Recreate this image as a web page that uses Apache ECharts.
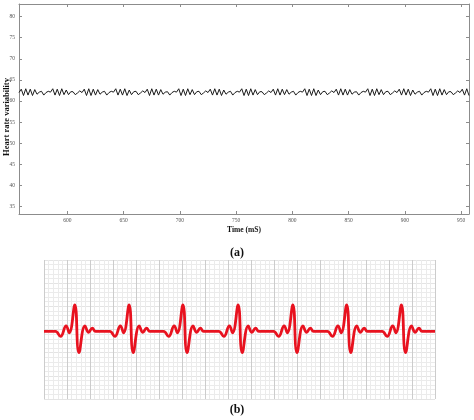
<!DOCTYPE html>
<html>
<head>
<meta charset="utf-8">
<script src="https://cdn.jsdelivr.net/npm/echarts@6/dist/echarts.min.js"></script>
<style>
  html, body { margin: 0; padding: 0; background: #fff; }
  #chart { width: 474px; height: 420px; }
</style>
</head>
<body>
<div id="chart"></div>
<script>
// (a) heart rate variability over time
var hrvTime = [
  557, 559, 561, 563, 565, 567, 569, 571, 573, 575,
  577, 579, 581, 583, 585, 587, 589, 591, 593, 595,
  597, 599, 601, 603, 605, 607, 609, 611, 613, 615,
  617, 619, 621, 623, 625, 627, 629, 631, 633, 635,
  637, 639, 641, 643, 645, 647, 649, 651, 653, 655,
  657, 659, 661, 663, 665, 667, 669, 671, 673, 675,
  677, 679, 681, 683, 685, 687, 689, 691, 693, 695,
  697, 699, 701, 703, 705, 707, 709, 711, 713, 715,
  717, 719, 721, 723, 725, 727, 729, 731, 733, 735,
  737, 739, 741, 743, 745, 747, 749, 751, 753, 755,
  757, 759, 761, 763, 765, 767, 769, 771, 773, 775,
  777, 779, 781, 783, 785, 787, 789, 791, 793, 795,
  797, 799, 801, 803, 805, 807, 809, 811, 813, 815,
  817, 819, 821, 823, 825, 827, 829, 831, 833, 835,
  837, 839, 841, 843, 845, 847, 849, 851, 853, 855,
  857, 859, 861, 863, 865, 867, 869, 871, 873, 875,
  877, 879, 881, 883, 885, 887, 889, 891, 893, 895,
  897, 899, 901, 903, 905, 907, 909, 911, 913, 915,
  917, 919, 921, 923, 925, 927, 929, 931, 933, 935,
  937, 939, 941, 943, 945, 947, 949, 951, 953, 955,
  957
];
var hrvValue = [
  62.0, 62.8, 61.3, 62.9, 61.4, 62.8, 61.3, 62.7, 61.6, 62.1, 62.3, 61.4, 62.0, 62.3,
  62.1, 62.9, 61.4, 62.8, 61.3, 62.9, 61.5, 62.6, 61.5, 62.2, 62.2, 61.5, 61.9, 62.4,
  62.0, 62.8, 61.3, 62.9, 61.3, 62.8, 61.4, 62.7, 61.6, 62.1, 62.3, 61.4, 62.0, 62.3,
  62.1, 62.9, 61.4, 62.8, 61.4, 62.9, 61.3, 62.6, 61.5, 62.2, 62.3, 61.5, 61.9, 62.4,
  62.0, 62.8, 61.3, 62.9, 61.4, 62.8, 61.4, 62.7, 61.6, 62.1, 62.2, 61.4, 62.0, 62.3,
  62.1, 62.9, 61.3, 62.8, 61.3, 62.9, 61.5, 62.7, 61.5, 62.2, 62.3, 61.5, 61.9, 62.4,
  62.0, 62.8, 61.4, 62.9, 61.4, 62.8, 61.3, 62.6, 61.6, 62.1, 62.3, 61.4, 62.0, 62.3,
  62.1, 62.9, 61.3, 62.8, 61.3, 62.9, 61.4, 62.7, 61.5, 62.2, 62.2, 61.5, 61.9, 62.4,
  62.0, 62.8, 61.4, 62.9, 61.4, 62.8, 61.5, 62.7, 61.6, 62.1, 62.3, 61.4, 62.0, 62.3,
  62.1, 62.9, 61.3, 62.8, 61.3, 62.9, 61.3, 62.6, 61.5, 62.2, 62.3, 61.5, 61.9, 62.4,
  62.0, 62.8, 61.4, 62.9, 61.4, 62.8, 61.4, 62.7, 61.6, 62.1, 62.2, 61.4, 62.0, 62.3,
  62.1, 62.9, 61.3, 62.8, 61.3, 62.9, 61.5, 62.7, 61.5, 62.2, 62.3, 61.5, 61.9, 62.4,
  62.0, 62.8, 61.4, 62.9, 61.4, 62.8, 61.3, 62.6, 61.6, 62.1, 62.3, 61.4, 62.0, 62.3,
  62.1, 62.9, 61.3, 62.8, 61.3, 62.9, 61.4, 62.7, 61.5, 62.2, 62.2, 61.5, 61.9, 62.4,
  62.0, 62.8, 61.4, 62.9, 61.3
];
var hrvXTicks = [600, 650, 700, 750, 800, 850, 900, 950];
var hrvYTicks = [35, 40, 45, 50, 55, 60, 65, 70, 75, 80];

// (b) ECG trace, in grid millimetres
var ecgX = [
  0, 1.2,
  2.5, 3.6, 4.8, 5.5, 6.7, 7.6, 8.9, 9.7, 10.5, 11.2, 12.8,
  14.3, 15.4, 16.6, 17.3, 18.5, 19.4, 20.7, 21.5, 22.3, 23.0, 24.6,
  26.0, 27.1, 28.3, 29.0, 30.2, 31.1, 32.4, 33.2, 34.0, 34.7, 36.4,
  38.0, 39.1, 40.3, 41.0, 42.2, 43.1, 44.4, 45.2, 46.0, 46.7, 48.3,
  49.9, 51.0, 52.2, 52.9, 54.1, 55.0, 56.3, 57.1, 57.9, 58.6, 60.1,
  61.6, 62.7, 63.9, 64.6, 65.8, 66.7, 68.0, 68.8, 69.6, 70.3, 71.9,
  73.5, 74.6, 75.8, 76.5, 77.7, 78.6, 79.9, 80.7, 81.5, 82.2, 83.6, 85
];
var ecgY = [
  14.6, 14.6,
  14.6, 13.5, 15.8, 14.3, 20.3, 10.0, 15.8, 14.4, 15.3, 14.6, 14.6,
  14.6, 13.5, 15.8, 14.3, 20.3, 10.0, 15.8, 14.4, 15.3, 14.6, 14.6,
  14.6, 13.5, 15.8, 14.3, 20.3, 10.0, 15.8, 14.4, 15.3, 14.6, 14.6,
  14.6, 13.5, 15.8, 14.3, 20.3, 10.0, 15.8, 14.4, 15.3, 14.6, 14.6,
  14.6, 13.5, 15.8, 14.3, 20.3, 10.0, 15.8, 14.4, 15.3, 14.6, 14.6,
  14.6, 13.5, 15.8, 14.3, 20.3, 10.0, 15.8, 14.4, 15.3, 14.6, 14.6,
  14.6, 13.5, 15.8, 14.3, 20.3, 10.0, 15.8, 14.4, 15.3, 14.6, 14.6, 14.6
];

var serif = '"Liberation Serif", "DejaVu Serif", serif';
var axisGray = '#8c8c8c';

const pairs = (xs, ys) => xs.map((x, i) => [x, ys[i]]);

const boxAxis = (pos, ticks, showLabel) => ({
  position: pos,
  axisLine: { show: true, onZero: false, lineStyle: { color: axisGray, width: 1 } },
  axisTick: { show: true, inside: true, length: 3, customValues: ticks, lineStyle: { color: axisGray } },
  axisLabel: {
    show: showLabel, customValues: ticks, fontSize: 5.5, color: '#555',
    fontFamily: serif, margin: 4
  },
  splitLine: { show: false }
});

const getOption = () => {
  return {
    animation: false,
    backgroundColor: '#fff',
    grid: [
      { left: 19, right: 5, top: 4, bottom: 206 },
      { left: 44, right: 39, top: 260, bottom: 21 }
    ],
    xAxis: [
      Object.assign({ type: 'value', gridIndex: 0, min: 557, max: 957,
        name: 'Time (mS)', nameLocation: 'middle', nameGap: 12,
        nameTextStyle: { fontFamily: serif, fontWeight: 'bold', fontSize: 7.5, color: '#111' }
      }, boxAxis('bottom', hrvXTicks, true)),
      Object.assign({ type: 'value', gridIndex: 0, min: 557, max: 957 }, boxAxis('top', hrvXTicks, false)),
      {
        type: 'value', gridIndex: 1, min: 0, max: 85, interval: 5,
        axisLine: { show: false }, axisTick: { show: false }, axisLabel: { show: false },
        splitLine: { show: true, lineStyle: { color: '#cccccc', width: 1 } },
        minorTick: { show: false, splitNumber: 5 },
        minorSplitLine: { show: true, lineStyle: { color: '#ebebeb', width: 1 } }
      }
    ],
    yAxis: [
      Object.assign({ type: 'value', gridIndex: 0, min: 33.2, max: 83 }, boxAxis('left', hrvYTicks, true)),
      Object.assign({ type: 'value', gridIndex: 0, min: 33.2, max: 83 }, boxAxis('right', hrvYTicks, false)),
      {
        type: 'value', gridIndex: 1, min: 0, max: 30, interval: 5,
        axisLine: { show: false }, axisTick: { show: false }, axisLabel: { show: false },
        splitLine: { show: true, lineStyle: { color: '#e4e4e4', width: 1 } },
        minorTick: { show: false, splitNumber: 5 },
        minorSplitLine: { show: true, lineStyle: { color: '#ebebeb', width: 1 } }
      }
    ],
    series: [
      {
        type: 'line', xAxisIndex: 0, yAxisIndex: 0,
        data: pairs(hrvTime, hrvValue),
        showSymbol: false,
        lineStyle: { color: '#1a1a1a', width: 1 }
      },
      {
        type: 'line', xAxisIndex: 2, yAxisIndex: 2,
        data: pairs(ecgX, ecgY),
        showSymbol: false, smooth: 0.45,
        lineStyle: { color: '#e8121f', width: 2.8 }
      }
    ],
    graphic: [
      {
        type: 'text', x: 6.5, y: 117, rotation: Math.PI / 2,
        style: {
          text: 'Heart rate variability', fontFamily: serif, fontWeight: 'bold',
          fontSize: 8.5, fill: '#111', align: 'center', verticalAlign: 'middle'
        }
      },
      {
        type: 'text', x: 237, y: 253,
        style: { text: '(a)', fontFamily: serif, fontWeight: 'bold', fontSize: 12, fill: '#111', align: 'center', verticalAlign: 'middle' }
      },
      {
        type: 'text', x: 237, y: 410,
        style: { text: '(b)', fontFamily: serif, fontWeight: 'bold', fontSize: 12, fill: '#111', align: 'center', verticalAlign: 'middle' }
      }
    ]
  };
};

const initCharts = () => {
  const chart = echarts.init(document.getElementById('chart'));
  chart.setOption(getOption());
};
initCharts();
</script>
</body>
</html>
